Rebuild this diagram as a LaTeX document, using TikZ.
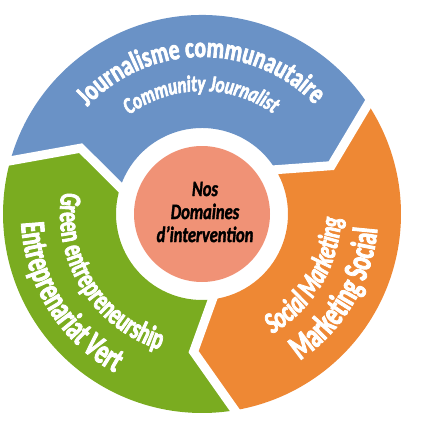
\documentclass[tikz,border=0pt]{standalone}
\usepackage{fontspec}
\setmainfont{Carlito}
\newfontfamily\fsA[FakeStretch=0.74,FakeBold=2.5]{Carlito}
\newfontfamily\fsB[FakeStretch=0.67,FakeBold=2.5]{Carlito}
\newfontfamily\fsC[FakeStretch=0.65,FakeBold=2.5]{Carlito}
\newfontfamily\fsD[FakeStretch=0.75,FakeBold=1.5]{Carlito}
\usetikzlibrary{decorations.text,calc}
\definecolor{cblue}{HTML}{6A92C6}
\definecolor{corange}{HTML}{EE8834}
\definecolor{cgreen}{HTML}{7AAC20}
\definecolor{csalmon}{HTML}{F09276}
\tikzset{
  gapline/.style={white, line width=9pt, line join=miter, shorten <=-14pt, shorten >=-5pt},
  ringtext/.style={decorate, decoration={text along path, text align=center, text={#1}}}
}
\begin{document}
\begin{tikzpicture}[x=1pt,y=1pt]
\useasboundingbox (0,0) rectangle (421,-425);
\coordinate (O) at (202,-214);
\begin{scope}[shift={(O)}]
  % blue: tail 164.5 -> head 33.5
  \fill[cblue] (164.5:199pt) arc[start angle=164.5, end angle=33.5, radius=199pt]
     -- (20.5:138pt) -- (31:86pt) arc[start angle=31, end angle=162, radius=86pt]
     -- (151.5:138pt) -- cycle;
  % orange: tail 33.5 -> head -80.5
  \fill[corange] (33.5:199pt) arc[start angle=33.5, end angle=-80.5, radius=199pt]
     -- (-93.5:138pt) -- (-83:86pt) arc[start angle=-83, end angle=31, radius=86pt]
     -- (20.5:138pt) -- cycle;
  % green: tail 279.5 -> head 164.5
  \fill[cgreen] (279.5:199pt) arc[start angle=279.5, end angle=164.5, radius=199pt]
     -- (151.5:138pt) -- (162:86pt) arc[start angle=162, end angle=277, radius=86pt]
     -- (266.5:138pt) -- cycle;
  % white gaps
  \foreach \b in {33.5,164.5,-80.5}
    \draw[gapline] (\b:199pt) -- ({\b-13}:138pt) -- ({\b-2.5}:86pt);
  % ring texts
  \path[ringtext={|\color{white}\fsA\bfseries\fontsize{29}{28}\selectfont|Journalisme communautaire}]
     (180.5:157pt) arc[start angle=180.5, end angle=0.5, radius=157pt];
  \path[ringtext={|\color{white}\fsA\bfseries\itshape\fontsize{23}{22}\selectfont|Community Journalist}]
     (180.5:123pt) arc[start angle=180.5, end angle=0.5, radius=123pt];
  \path[ringtext={|\color{white}\fsC\bfseries\fontsize{35}{33}\selectfont|Entreprenariat Vert}]
     (122:181pt) arc[start angle=122, end angle=302, radius=181pt];
  \path[ringtext={|\color{white}\fsB\bfseries\fontsize{30}{29}\selectfont|Green entrepreneurship}]
     (122:142pt) arc[start angle=122, end angle=302, radius=142pt];
  \path[ringtext={|\color{white}\fsC\bfseries\fontsize{35}{33}\selectfont|Marketing Social}]
     (-120.5:176pt) arc[start angle=-120.5, end angle=59.5, radius=176pt];
  \path[ringtext={|\color{white}\fsB\bfseries\itshape\fontsize{30}{29}\selectfont|Social Marketing}]
     (-120.5:139pt) arc[start angle=-120.5, end angle=59.5, radius=139pt];
\end{scope}
\node[circle, fill=csalmon, minimum size=136pt, inner sep=0pt] (ctr) at (O) {};
\node[align=center, text=black, font=\fsD\bfseries\itshape\fontsize{22}{23}\selectfont]
  (lbl) at ($(ctr.center)+(3,2)$) {Nos\\Domaines\\d’intervention};
\end{tikzpicture}
\end{document}
